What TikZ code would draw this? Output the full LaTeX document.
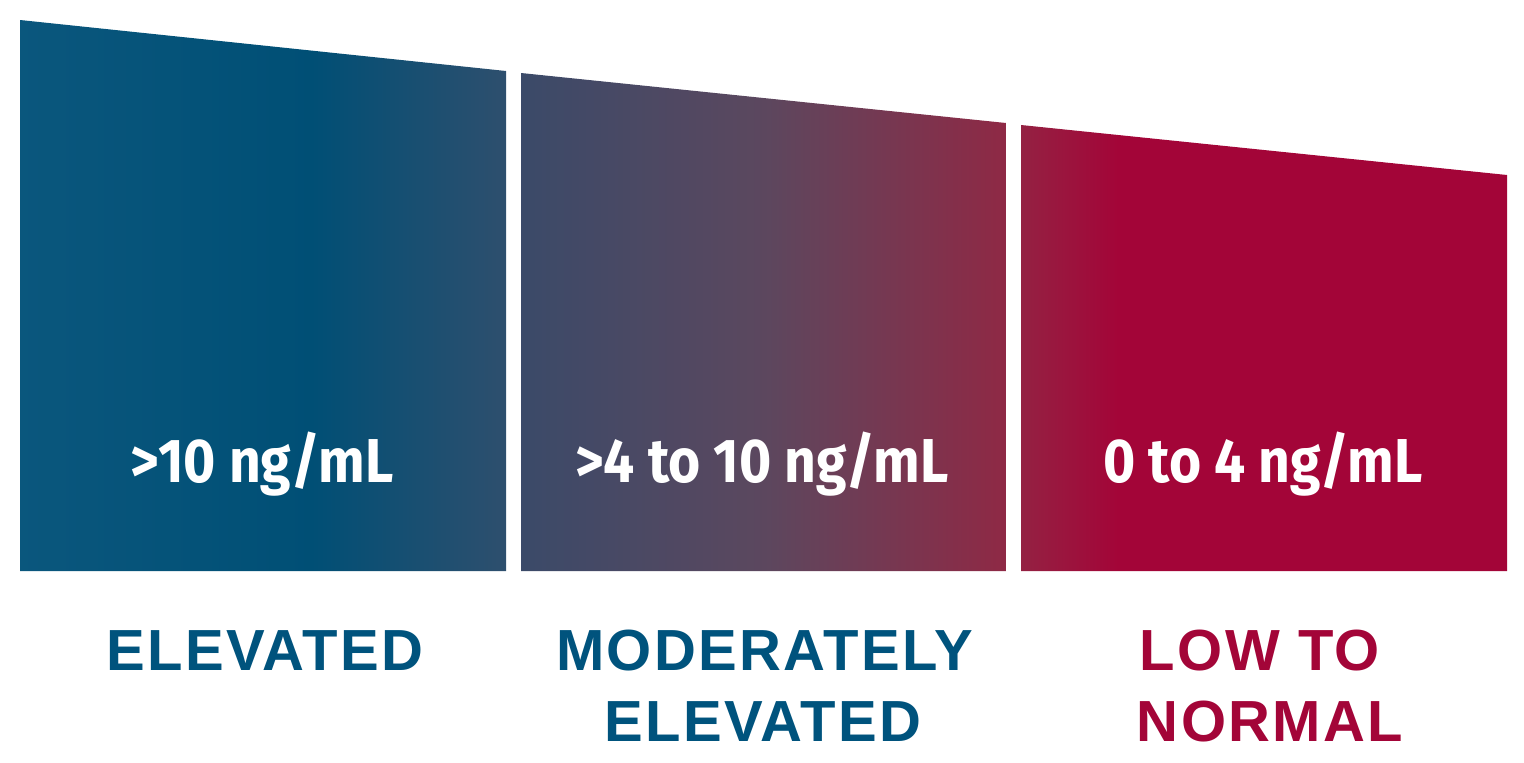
\documentclass[tikz,border=0pt]{standalone}
\usepackage{fontspec}
\setmainfont{Fira Sans}
\newfontfamily\labfont[LetterSpace=4]{Liberation Sans}
\newfontfamily\valfont{Fira Sans}
\definecolor{tblue}{RGB}{0,83,125}
\definecolor{tred}{RGB}{163,5,56}
\pgfdeclarehorizontalshading{pone}{100bp}{%
  rgb(0bp)=(0.04,0.34,0.49);
  rgb(25bp)=(0.04,0.34,0.49);
  rgb(55bp)=(0.0,0.31,0.46);
  rgb(75bp)=(0.18,0.31,0.43);
  rgb(100bp)=(0.18,0.31,0.43)}
\pgfdeclarehorizontalshading{ptwo}{100bp}{%
  rgb(0bp)=(0.23,0.29,0.41);
  rgb(25bp)=(0.23,0.29,0.41);
  rgb(50bp)=(0.36,0.28,0.37);
  rgb(75bp)=(0.56,0.16,0.27);
  rgb(100bp)=(0.56,0.16,0.27)}
\pgfdeclarehorizontalshading{pthree}{100bp}{%
  rgb(0bp)=(0.58,0.13,0.26);
  rgb(25bp)=(0.58,0.13,0.26);
  rgb(35bp)=(0.64,0.02,0.22);
  rgb(75bp)=(0.64,0.02,0.22);
  rgb(100bp)=(0.64,0.02,0.22)}
\tikzset{
  valtext/.style={text=white, inner sep=0pt, anchor=base, font=\valfont\bfseries\fontsize{62}{66}\selectfont},
  labtext/.style={inner sep=0pt, anchor=base, font=\labfont\bfseries\fontsize{58}{70}\selectfont},
}
\begin{document}
\begin{tikzpicture}[x=1pt,y=-1pt]
\useasboundingbox (0,0) rectangle (1524,763);
\shade[shading=pone] (20,20) -- (506,71) -- (506,571) -- (20,571) -- cycle;
\shade[shading=ptwo] (521,73) -- (1006,123) -- (1006,571) -- (521,571) -- cycle;
\shade[shading=pthree] (1021,125) -- (1507,175) -- (1507,571) -- (1021,571) -- cycle;
\node[valtext] (v1) at (262,482) {\scalebox{0.89}[1]{>10 ng/mL}};
\node[valtext] (v2) at (762,482) {\scalebox{0.89}[1]{>4 to 10 ng/mL}};
\node[valtext] (v3) at (1263,482) {\scalebox{0.89}[1]{0 to 4 ng/mL}};
\node[labtext, text=tblue] (l1) at (265,670) {ELEVATED};
\node[labtext, text=tblue] (l2a) at (765,670) {MODERATELY};
\node[labtext, text=tblue] (l2b) at (763,741) {ELEVATED};
\node[labtext, text=tred] (l3a) at (1260,670) {LOW TO};
\node[labtext, text=tred] (l3b) at (1270,741) {NORMAL};
\end{tikzpicture}
\end{document}
